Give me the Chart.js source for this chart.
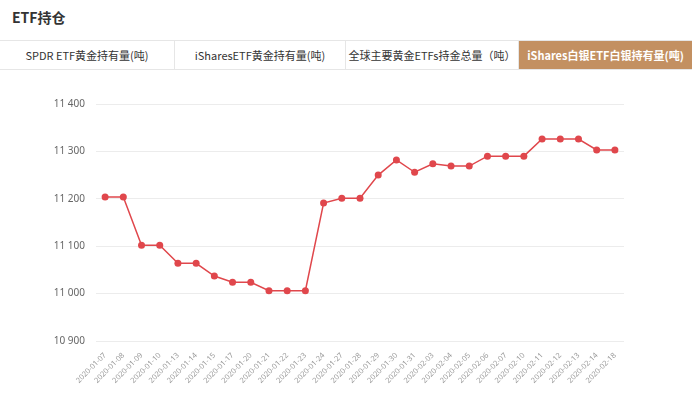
<!DOCTYPE html>
<html>
<head>
<meta charset="utf-8">
<script src="https://cdn.jsdelivr.net/npm/chart.js@4/dist/chart.umd.min.js"></script>
<style>
  body { margin: 0; width: 692px; height: 398px; background: #fff; font-family: "Noto Sans CJK SC", "Noto Sans", sans-serif; overflow: hidden; }
  .title { position: absolute; left: 12px; top: 7px; font-size: 14px; font-weight: bold; color: #333; }
  .tabs { position: absolute; left: 0; top: 40px; width: 692px; height: 28px; border-top: 1px solid #e6e6e6; border-bottom: 1px solid #e6e6e6; display: flex; }
  .tab { height: 28px; line-height: 28px; text-align: center; font-size: 11px; color: #333; border-right: 1px solid #e6e6e6; box-sizing: border-box; }
  .tab.active { background: #c39061; color: #fff; font-weight: bold; border-right: none; }
  .wrap { position: absolute; left: 0; top: 80px; width: 692px; height: 318px; }
</style>
</head>
<body>
<div class="title">ETF持仓</div>
<div class="tabs">
  <div class="tab" style="width:175px">SPDR ETF黄金持有量(吨)</div>
  <div class="tab" style="width:171px">iSharesETF黄金持有量(吨)</div>
  <div class="tab" style="width:173px">全球主要黄金ETFs持金总量（吨）</div>
  <div class="tab active" style="width:173px">iShares白银ETF白银持有量(吨)</div>
</div>
<div class="wrap"><canvas id="chart"></canvas></div>
<script>
const dates = [
  "2020-01-07", "2020-01-08", "2020-01-09", "2020-01-10", "2020-01-13",
  "2020-01-14", "2020-01-15", "2020-01-17", "2020-01-20", "2020-01-21",
  "2020-01-22", "2020-01-23", "2020-01-24", "2020-01-27", "2020-01-28",
  "2020-01-29", "2020-01-30", "2020-01-31", "2020-02-03", "2020-02-04",
  "2020-02-05", "2020-02-06", "2020-02-07", "2020-02-10", "2020-02-11",
  "2020-02-12", "2020-02-13", "2020-02-14", "2020-02-18",
];

const holdings = [
  11204, 11204, 11102, 11102, 11064, 11064, 11037, 11024, 11024, 11006,
  11006, 11006, 11191, 11201, 11201, 11250, 11282, 11256, 11274, 11269,
  11269, 11290, 11290, 11290, 11326, 11326, 11326, 11303, 11303,
];

const yTicks = [10900, 11000, 11100, 11200, 11300, 11400];

const fmt = (v) => String(v).replace(/\B(?=(\d{3})+(?!\d))/g, " ");

new Chart(document.getElementById("chart"), {
  type: "line",
  data: {
    labels: dates,
    datasets: [
      {
        data: holdings,
        borderColor: "#e0474c",
        backgroundColor: "#e0474c",
        borderWidth: 1.5,
        pointRadius: 3.5,
        pointBorderWidth: 0,
        tension: 0,
        fill: false,
      },
    ],
  },
  options: {
    responsive: true,
    maintainAspectRatio: false,
    animation: false,
    layout: { padding: { top: 24, right: 68, left: 0, bottom: 0 } },
    plugins: {
      legend: { display: false },
      tooltip: { enabled: false },
    },
    scales: {
      x: {
        offset: true,
        grid: { display: false },
        border: { display: false },
        ticks: {
          autoSkip: false,
          maxRotation: 45,
          minRotation: 45,
          color: "#999",
          font: { size: 7.5, family: "Noto Sans" },
          padding: 2,
        },
        afterFit: (scale) => { scale.height = 57; },
      },
      y: {
        min: 10900,
        max: 11400,
        afterBuildTicks: (scale) => { scale.ticks = yTicks.map((v) => ({ value: v })); },
        grid: { color: "#ececec", drawTicks: false },
        border: { display: false },
        ticks: {
          color: "#666",
          font: { size: 10, family: "Noto Sans" },
          padding: 11,
          callback: (v) => fmt(v),
        },
        afterFit: (scale) => { scale.width = 96; },
      },
    },
  },
});
</script>
</body>
</html>
